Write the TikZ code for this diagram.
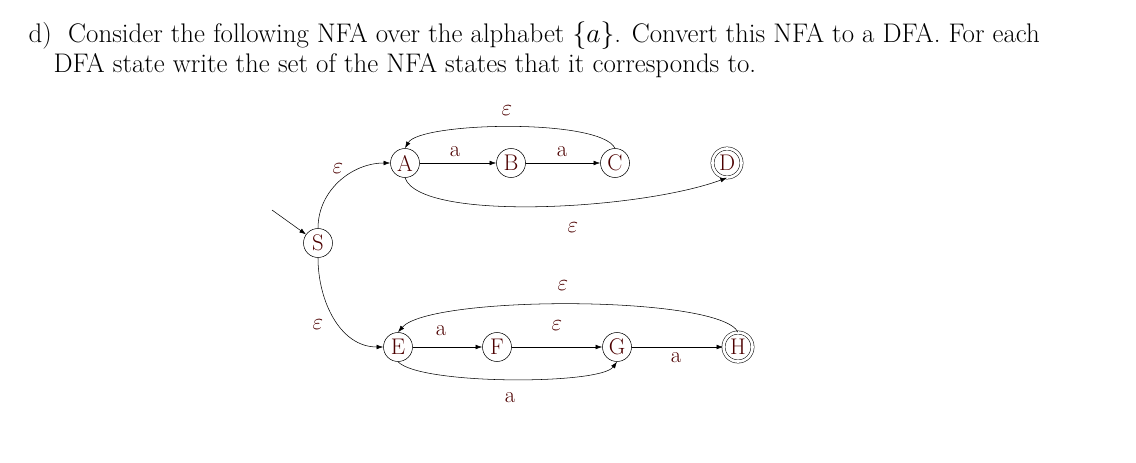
\documentclass[tikz,border=0pt]{standalone}
\usetikzlibrary{arrows.meta}
\begin{document}
\begin{tikzpicture}[x=0.0264cm,y=-0.0264cm,
  st/.style={circle,draw,minimum size=29*0.0264cm,inner sep=0pt,text=red!30!black,font=\fontsize{17}{17}\selectfont},
  acc/.style={st,double,double distance=2pt},
  lb/.style={text=red!30!black,font=\fontsize{17}{17}\selectfont},
  tr/.style={-{Latex[length=5pt,width=3.5pt]},thin}]
\useasboundingbox (0,0) rectangle (1136,463);
\node[anchor=base west,font=\fontsize{20.2}{20.2}\selectfont] (t1) at (24,43) {d)\ \ Consider the following NFA over the alphabet $\{a\}$. Convert this NFA to a DFA. For each};
\node[anchor=base west,font=\fontsize{20.2}{20.2}\selectfont] (t2) at (49,73) {DFA state write the set of the NFA states that it corresponds to.};
\node[st] (S) at (318,243) {S};
\node[st] (A) at (405,163) {A};
\node[st] (B) at (511,163) {B};
\node[st] (C) at (615,163) {C};
\node[acc] (D) at (727,163) {D};
\node[st] (E) at (398,347) {E};
\node[st] (F) at (497,347) {F};
\node[st] (G) at (617,347) {G};
\node[acc] (H) at (738,347) {H};
\coordinate (s0) at (272,210);
\draw[tr] (s0) -- (S);
\draw[tr] (S.north) to[out=90,in=180] (A.west);
\draw[tr] (S.south) to[out=-90,in=180] (E.west);
\draw[tr] (A) -- (B);
\draw[tr] (B) -- (C);
\draw[tr] (C.north) .. controls (600,118) and (420,122) .. (A.north);
\draw[tr] (A.south) .. controls (420,222) and (640,210) .. (D.south);
\draw[tr] (E) -- (F);
\draw[tr] (F) -- (G);
\draw[tr] (G) -- (H);
\draw[tr] (H.north) .. controls (720,295) and (430,295) .. (E.north);
\draw[tr] (E.south) .. controls (420,385) and (600,385) .. (G.south);
\node[lb] (l1) at (338,169) {$\varepsilon$};
\node[lb] (l2) at (507,111) {$\varepsilon$};
\node[lb] (l3) at (573,228) {$\varepsilon$};
\node[lb] (l4) at (318,325) {$\varepsilon$};
\node[lb] (l5) at (563,286) {$\varepsilon$};
\node[lb] (l6) at (557,326) {$\varepsilon$};
\node[lb] (m1) at (455,152) {a};
\node[lb] (m2) at (562,152) {a};
\node[lb] (m3) at (441,331) {a};
\node[lb] (m4) at (676,358) {a};
\node[lb] (m5) at (510,398) {a};
\end{tikzpicture}
\end{document}
